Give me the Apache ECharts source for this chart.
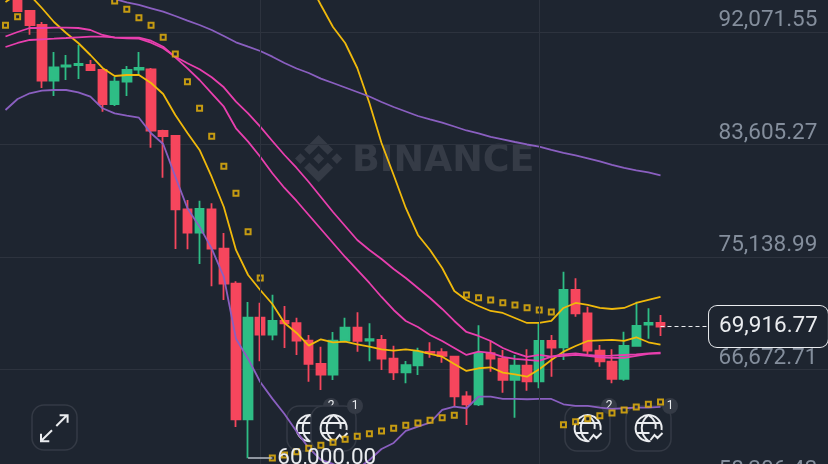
<!DOCTYPE html>
<html>
<head>
<meta charset="utf-8">
<style>
  html, body { margin: 0; padding: 0; background: #1e2530; overflow: hidden; }
  /* chart is larger than the window, the reference is a crop of a bigger chart */
  #chart { position: absolute; left: -1px; top: 0; width: 840px; height: 482px; }
</style>
<script src="https://cdn.jsdelivr.net/npm/echarts@6/dist/echarts.min.js"></script>
</head>
<body>
<div id="chart"></div>
<script>
// daily bars, the last 14 slots stay empty so the price tag has room
const days = [
  '01-17','01-18','01-19','01-20','01-21','01-22','01-23','01-24','01-25','01-26','01-27','01-28','01-29','01-30','01-31',
  '02-01','02-02','02-03','02-04','02-05','02-06','02-07','02-08','02-09','02-10','02-11','02-12','02-13','02-14','02-15',
  '02-16','02-17','02-18','02-19','02-20','02-21','02-22','02-23','02-24','02-25','02-26','02-27','02-28','03-01','03-02',
  '03-03','03-04','03-05','03-06','03-07','03-08','03-09','03-10','03-11','03-12','03-13','03-14','03-15','03-16','03-17',
  '03-18','03-19','03-20','03-21','03-22','03-23','03-24','03-25','03-26'
];

// open, close, low, high
const candles = [
  [98900,95640,94880,99400],[95634,93676,93600,96010],[93676,92622,91891,93713],[92622,88427,87878,92847],
  [88427,89436,87275,90588],[89496,89572,88480,90362],[89610,89685,88555,91115],[89610,89233,89158,89986],
  [89233,86673,86093,89260],[86673,88352,86522,88706],[88352,89233,87275,89534],[89270,89384,88856,90588],
  [89286,84662,83382,89384],[84640,84263,81123,84738],[84263,78744,75754,84263],[78744,76982,75732,79444],
  [76982,78766,74625,79391],[78744,75777,72946,79196],[75777,73141,71914,76959],[73141,62931,62351,73322],
  [62931,70581,60000,71763],[70581,69301,67298,71711],[69301,70333,68879,72313],[70333,70145,68300,71462],
  [70160,68849,67772,70581],[68849,67095,65762,69278],[67095,66289,65137,68397],[66289,68849,65890,69504],
  [68849,69828,68830,70581],[69828,68827,68021,70987],[68849,68955,67298,70160],[68902,67494,66643,69278],
  [67494,66470,65890,68473],[66470,66997,65641,67321],[66997,68021,66266,68322],[68000,67923,67569,68728],
  [67976,67697,67193,68277],[67644,64662,63879,67697],[64662,64060,62501,65039],[64060,67901,63932,70009],
  [67901,67494,66515,68827],[67494,65890,64933,68149],[65890,66967,63051,67772],[66967,65792,65084,68202],
  [65792,68827,65265,70160],[68827,68322,66138,69278],[68352,72667,67396,74045],[72667,70912,70657,73548],
  [70912,68096,67825,71410],[68096,67299,66891,68525],[67268,65965,65641,68202],[65965,68450,65837,69527],
  [68450,69956,68450,71786],[70054,70182,69000,71289],[70182,69916.77,69203,70784]
];

const maFast = [94353,94956,94881,93902,92847,92019,91266,90362,89384,88781,88856,88856,88254,87426,85845,84489,83209,81176,78917,75679,73796,72667,71613,70182,69429,68473,68954,68728,68774,68578,68397,68201,68096,68201,68074,67848,67644,67095,66568,66771,66846,66440,66319,66138,66695,67396,68021,68450,68827,68879,68902,68827,69105,68728,68548];
const bandTop = [null,null,null,null,null,null,null,null,null,null,null,null,null,null,null,null,null,null,null,null,null,null,null,null,null,95859,94128,92471,91266,89384,86748,83736,81326,78842,76808,75679,74324,72592,71914,71462,71086,70935,70559,70182,70182,70333,71312,71688,71537,71312,71236,71312,71688,71914,72140];
const pinkA = [91755,92094,92396,92396,92418,92418,92396,92245,91869,91665,91620,91590,91289,90867,90235,89737,89286,88683,87930,86846,85972,84964,83887,82832,81854,80799,79670,78540,77486,76432,75679,75001,74248,73571,72818,72065,71236,70333,69504,69203,68827,68300,67923,67622,67772,67644,67825,67900,67772,67697,67720,67772,67825,67900,67946];
const pinkB = [90965,91266,91492,91545,91590,91642,91695,91740,91740,91695,91665,91665,91439,90987,90189,89361,88480,87478,86470,84843,83834,82704,81454,80348,79369,78314,77260,76206,75152,74173,73194,72140,71161,70333,69881,69278,68827,68300,67772,68021,67923,67622,67471,67396,67321,67644,67697,67772,67697,67599,67547,67547,67697,67848,67900];
const purpleLow = [86221,87049,87478,87674,87727,87727,87554,87222,86349,85972,85792,85641,84466,83661,81199,78819,77433,75777,73646,69000,67494,65739,64483,63330,62002,60770,59866,59565,59188,59188,59866,60694,61146,62050,62374,62675,63631,63879,63759,64632,64632,64459,64459,64437,64459,64459,64060,63932,63932,63804,63706,63759,63804,63804,63857];
const purpleHigh = [null,null,null,null,null,96010,95709,95408,95031,94579,94331,94128,93879,93623,93299,92945,92622,92245,91793,91319,90987,90664,90235,89760,89346,89007,88585,88254,87915,87576,87237,86823,86447,86108,85769,85506,85265,84978,84677,84452,84188,84000,83811,83623,83458,83209,82983,82795,82569,82343,82080,81854,81680,81515,81304];
const sar = [92599,93246,null,null,null,null,null,null,null,94429,93804,93171,92599,91695,90438,88352,86349,84241,81982,79948,77057,73571,60017,60242,60491,60747,60973,61199,61425,61651,61847,62050,62253,62478,62652,62855,63051,63232,72290,72087,71914,71711,71537,71334,71161,71010,62524,62750,62976,63202,63405,63631,63857,64060,64233];

const priceTicks = [58206.43, 66672.71, 75138.99, 83605.27, 92071.55];
const lastPrice = 69916.77;
const lowPrice = 60000;

const BG = '#1e2530';
const UP = '#2ebd85';
const DOWN = '#f6465d';
const YELLOW = '#f0b90b';
const PINK = '#e83fae';
const PURPLE = '#8a5fc0';
const GRID = '#2d333e';
const TEXT = '#848e9c';
const WHITE = '#eaecef';

const fmt = v => v.toLocaleString('en-US', { minimumFractionDigits: 2, maximumFractionDigits: 2 });

function maLine(name, data, color) {
  return {
    name, type: 'line', data, z: 3,
    showSymbol: false, connectNulls: false,
    lineStyle: { color, width: 1.8 }, itemStyle: { color }
  };
}

// the graphic component has no plain path type, so the icons get registered as shapes
const globePath = 'M13 2A13 13 0 1 0 2 13M0 -13C-9 -6 -9 6 0 13M0 -13C7 -8 8 -3 7 1M-11 -5H11M-11 5H1M2 12L6 7L9 10L14 5';
const expandPath = 'M24.3 21L35 10.3M27.6 10.3H35.6V17.7M20 25.3L9 36M9 28.7V36.3H17.3';
const logoPath = 'M38.73 53.2l24.59-24.58 24.6 24.6 14.3-14.31L63.32 0 24.42 38.9zM0 63.31l14.3-14.31 14.31 14.31-14.31 14.3zM38.73 73.41l24.59 24.59 24.6-24.6 14.31 14.29-38.9 38.91-38.91-38.88zM98 63.31L112.3 49l14.3 14.3-14.3 14.32zM77.83 63.3L63.32 48.78 52.59 59.51l-1.24 1.23-2.54 2.54 14.51 14.5 14.51-14.47z';
echarts.graphic.registerShape('globeIcon', echarts.graphic.extendPath(globePath, {}));
echarts.graphic.registerShape('expandIcon', echarts.graphic.extendPath(expandPath, {}));
echarts.graphic.registerShape('binanceLogo', echarts.graphic.extendPath(logoPath, {}));

// one of the round buttons on the chart, with or without a badge
function button(x, y, icon, badge) {
  const parts = [{
    type: 'rect', shape: { x: 0, y: 0, width: 45, height: 45, r: 12 },
    style: { fill: BG, stroke: '#343a45', lineWidth: 1.5 }
  }, icon];
  if (badge) {
    parts.push({ type: 'circle', shape: { cx: 44, cy: 0, r: 8 }, style: { fill: '#343a45' } });
    parts.push({
      type: 'text', x: 44, y: 0,
      style: { text: badge, fill: WHITE, font: '12px Roboto', align: 'center', verticalAlign: 'middle' }
    });
  }
  return { type: 'group', x: x + 1, y, z: 1, children: parts };
}

function globe() {
  return { type: 'globeIcon', x: 22.5, y: 22, style: { fill: 'none', stroke: WHITE, lineWidth: 2 } };
}

const chart = echarts.init(document.getElementById('chart'));

chart.setOption({
  backgroundColor: BG,
  animation: false,
  grid: { left: 0.43, top: 0, width: 836.97, height: 482 },
  xAxis: {
    type: 'category', data: days, boundaryGap: true,
    axisLine: { show: false }, axisTick: { show: false }, axisLabel: { show: false }, splitLine: { show: false }
  },
  yAxis: {
    type: 'value', position: 'right', min: 58206.43, max: 94504, scale: true,
    axisLine: { show: false },
    axisTick: { show: false, customValues: priceTicks },
    splitLine: { show: true, lineStyle: { color: GRID, width: 1 } },
    axisLabel: {
      inside: true, margin: 19, customValues: priceTicks,
      color: TEXT, fontFamily: 'Roboto', fontSize: 22.5, verticalAlign: 'bottom',
      formatter: v => fmt(v)
    }
  },
  graphic: [
    { type: 'binanceLogo', x: 296, y: 135, scaleX: 0.373, scaleY: 0.373, z: 0, style: { fill: '#353b46' } },
    { type: 'text', x: 353, y: 162, z: 0, style: { text: 'BINANCE', fill: '#353b46', font: 'bold 36.5px "DejaVu Sans"', verticalAlign: 'middle' } },
    button(32, 405, { type: 'expandIcon', style: { fill: 'none', stroke: WHITE, lineWidth: 2 } }),
    button(287, 406, globe(), '2'),
    button(311, 406, globe(), '1'),
    button(565, 406, globe(), '2'),
    button(626, 406, globe(), '1')
  ],
  series: [
    {
      // vertical grid lines
      name: 'vgrid', type: 'line', data: [], z: 0, silent: true,
      markLine: {
        silent: true, symbol: 'none', label: { show: false },
        lineStyle: { color: GRID, width: 1, type: 'solid' },
        data: [{ xAxis: 21 }, { xAxis: 44 }]
      }
    },
    maLine('steep', bandTop, YELLOW),
    maLine('fast', maFast, YELLOW),
    maLine('pinkA', pinkA, PINK),
    maLine('pinkB', pinkB, PINK),
    maLine('purpleLow', purpleLow, PURPLE),
    maLine('purpleHigh', purpleHigh, PURPLE),
    {
      name: 'price', type: 'candlestick', data: candles, z: 2,
      barWidth: 9,
      itemStyle: { color: UP, color0: DOWN, borderColor: UP, borderColor0: DOWN, borderWidth: 1.8 },
      markLine: {
        silent: true, symbol: 'none', z: 5,
        data: [
          [
            { coord: [20, lowPrice], lineStyle: { color: '#b7bdc6', width: 1.5, type: 'solid' } },
            {
              coord: [22, lowPrice],
              label: {
                show: true, position: 'end', distance: 5, formatter: fmt(lowPrice),
                color: WHITE, fontFamily: 'Roboto', fontSize: 22.5
              }
            }
          ],
          [
            { coord: [54, lastPrice], lineStyle: { color: WHITE, width: 1, type: [4, 3] } },
            {
              coord: [58, lastPrice],
              label: {
                show: true, position: 'end', distance: 0, formatter: fmt(lastPrice),
                color: WHITE, fontFamily: 'Roboto', fontSize: 22.5,
                backgroundColor: BG, borderColor: WHITE, borderWidth: 1, borderRadius: 8,
                padding: [9, 10]
              }
            }
          ]
        ]
      }
    },
    {
      name: 'sar', type: 'scatter', data: sar, z: 4,
      symbol: 'rect', symbolSize: 5,
      itemStyle: { color: BG, borderColor: YELLOW, borderWidth: 2 }
    }
  ]
});
</script>
</body>
</html>
